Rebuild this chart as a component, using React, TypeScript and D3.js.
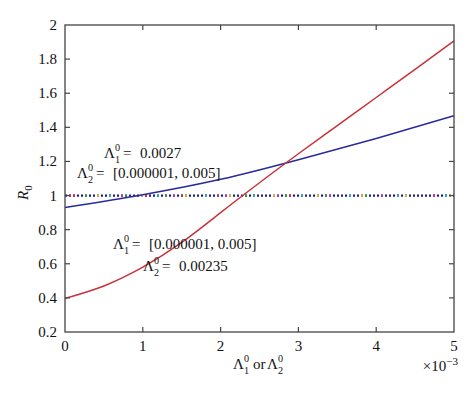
import React from 'react';
import * as d3 from 'd3';

const W = 474;
const H = 397;
const margin = { top: 25, right: 20, bottom: 65, left: 65 };

// x in units of 1e-3
const xTicks = [0, 1, 2, 3, 4, 5];
const yTicks = [0.2, 0.4, 0.6, 0.8, 1, 1.2, 1.4, 1.6, 1.8, 2];

// Λ1 varied, Λ2 = 0.00235
const redX = [0, 0.5, 1, 1.5, 2, 2.5, 3, 3.5, 4, 4.5, 5];
const redY = [0.397, 0.47, 0.58, 0.725, 0.9, 1.075, 1.245, 1.41, 1.575, 1.74, 1.907];

// Λ1 = 0.0027, Λ2 varied
const blueX = [0, 1, 2, 3, 4, 5];
const blueY = [0.93, 1.005, 1.095, 1.21, 1.335, 1.468];

const thresholdY = 1;
const dotColors = ['#1f1f8c', '#d03030', '#2ca02c', '#e0c020', '#20b0c0', '#c030c0'];

const FONT = 'Liberation Serif';

const Lam = ({ x, y, sub, size = 15 }: { x: number; y: number; sub: string; size?: number }) => (
  <g fill="#111">
    <text x={x} y={y} fontFamily={FONT} fontSize={size}>Λ</text>
    <text x={x + size * 0.74} y={y - size * 0.5} fontFamily={FONT} fontSize={size * 0.68}>0</text>
    <text x={x + size * 0.74} y={y + size * 0.32} fontFamily={FONT} fontSize={size * 0.68}>{sub}</text>
  </g>
);

const T = (p: any) => <text fontFamily={FONT} fontSize={15} fill="#111" {...p} />;

// "Λ_sub^0 = value" annotation, MATLAB-like spacing
const Note = ({ x, y, sub, value }: { x: number; y: number; sub: string; value: string }) => (
  <g>
    <Lam x={x} y={y} sub={sub} />
    <T x={x + 19} y={y}>=</T>
    <T x={x + 36} y={y}>{value}</T>
  </g>
);

const App = () => {
  const iw = W - margin.left - margin.right;
  const ih = H - margin.top - margin.bottom;
  const x = d3.scaleLinear().domain([0, 5]).range([margin.left, margin.left + iw]);
  const y = d3.scaleLinear().domain([0.2, 2]).range([margin.top + ih, margin.top]);

  const line = d3.line<[number, number]>()
    .x(d => x(d[0]))
    .y(d => y(d[1]))
    .curve(d3.curveNatural);

  const red = line(redX.map((v, i) => [v, redY[i]]) as [number, number][]) || '';
  const blue = line(blueX.map((v, i) => [v, blueY[i]]) as [number, number][]) || '';

  const x0 = x(0), x1 = x(5), yT = y(2), yB = y(0.2);
  const tl = 5;
  const y1 = y(thresholdY);

  return (
    <svg width={W} height={H} style={{ position: 'absolute', left: 0, top: 0, background: '#fff' }}>
      {/* threshold R0 = 1, multicolour dotted */}
      <line x1={x0} x2={x1} y1={y1} y2={y1} stroke={dotColors[0]} strokeWidth={2.2} strokeDasharray="2,2" />
      {dotColors.slice(1).map((c, i) => (
        <line key={c} x1={x0} x2={x1} y1={y1} y2={y1} stroke={c} strokeWidth={2.2}
          strokeDasharray={`2,${6 * dotColors.length - 2 + i * 4}`} strokeDashoffset={-(4 * (i * 3 + 2))} />
      ))}

      <path d={blue} fill="none" stroke="#2a2a9c" strokeWidth={1.5} />
      <path d={red} fill="none" stroke="#c8323a" strokeWidth={1.5} />

      {/* box */}
      <rect x={x0} y={yT} width={x1 - x0} height={yB - yT} fill="none" stroke="#444" strokeWidth={1.3} />
      {xTicks.slice(1, -1).map(t => (
        <g key={'xt' + t} stroke="#444" strokeWidth={1.2}>
          <line x1={x(t)} x2={x(t)} y1={yB} y2={yB - tl} />
          <line x1={x(t)} x2={x(t)} y1={yT} y2={yT + tl} />
        </g>
      ))}
      {yTicks.slice(1, -1).map(t => (
        <g key={'yt' + t} stroke="#444" strokeWidth={1.2}>
          <line x1={x0} x2={x0 + tl} y1={y(t)} y2={y(t)} />
          <line x1={x1} x2={x1 - tl} y1={y(t)} y2={y(t)} />
        </g>
      ))}

      {xTicks.map(t => (
        <T key={'xl' + t} x={x(t)} y={yB + 19} textAnchor="middle">{t}</T>
      ))}
      {yTicks.map(t => (
        <T key={'yl' + t} x={x0 - 8} y={y(t) + 5} textAnchor="end">{t}</T>
      ))}
      <T x={x1 + 4} y={yB + 39} textAnchor="end">
        ×10<tspan dy={-6} fontSize={11}>−3</tspan>
      </T>
      <T transform={`translate(${x0 - 37},${y(1) - 3}) rotate(-90)`} textAnchor="middle">
        <tspan fontStyle="italic">R</tspan><tspan dy={4} fontSize={11}>0</tspan>
      </T>

      {/* x axis label */}
      <T x={253} y={369}>or</T>
      <Lam x={233} y={369} sub="1" />
      <Lam x={267} y={369} sub="2" />

      {/* annotations */}
      <Note x={104} y={158} sub="1" value="0.0027" />
      <Note x={77} y={178} sub="2" value="[0.000001, 0.005]" />
      <Note x={113} y={249} sub="1" value="[0.000001, 0.005]" />
      <Note x={143} y={271} sub="2" value="0.00235" />
    </svg>
  );
};

export default App;
